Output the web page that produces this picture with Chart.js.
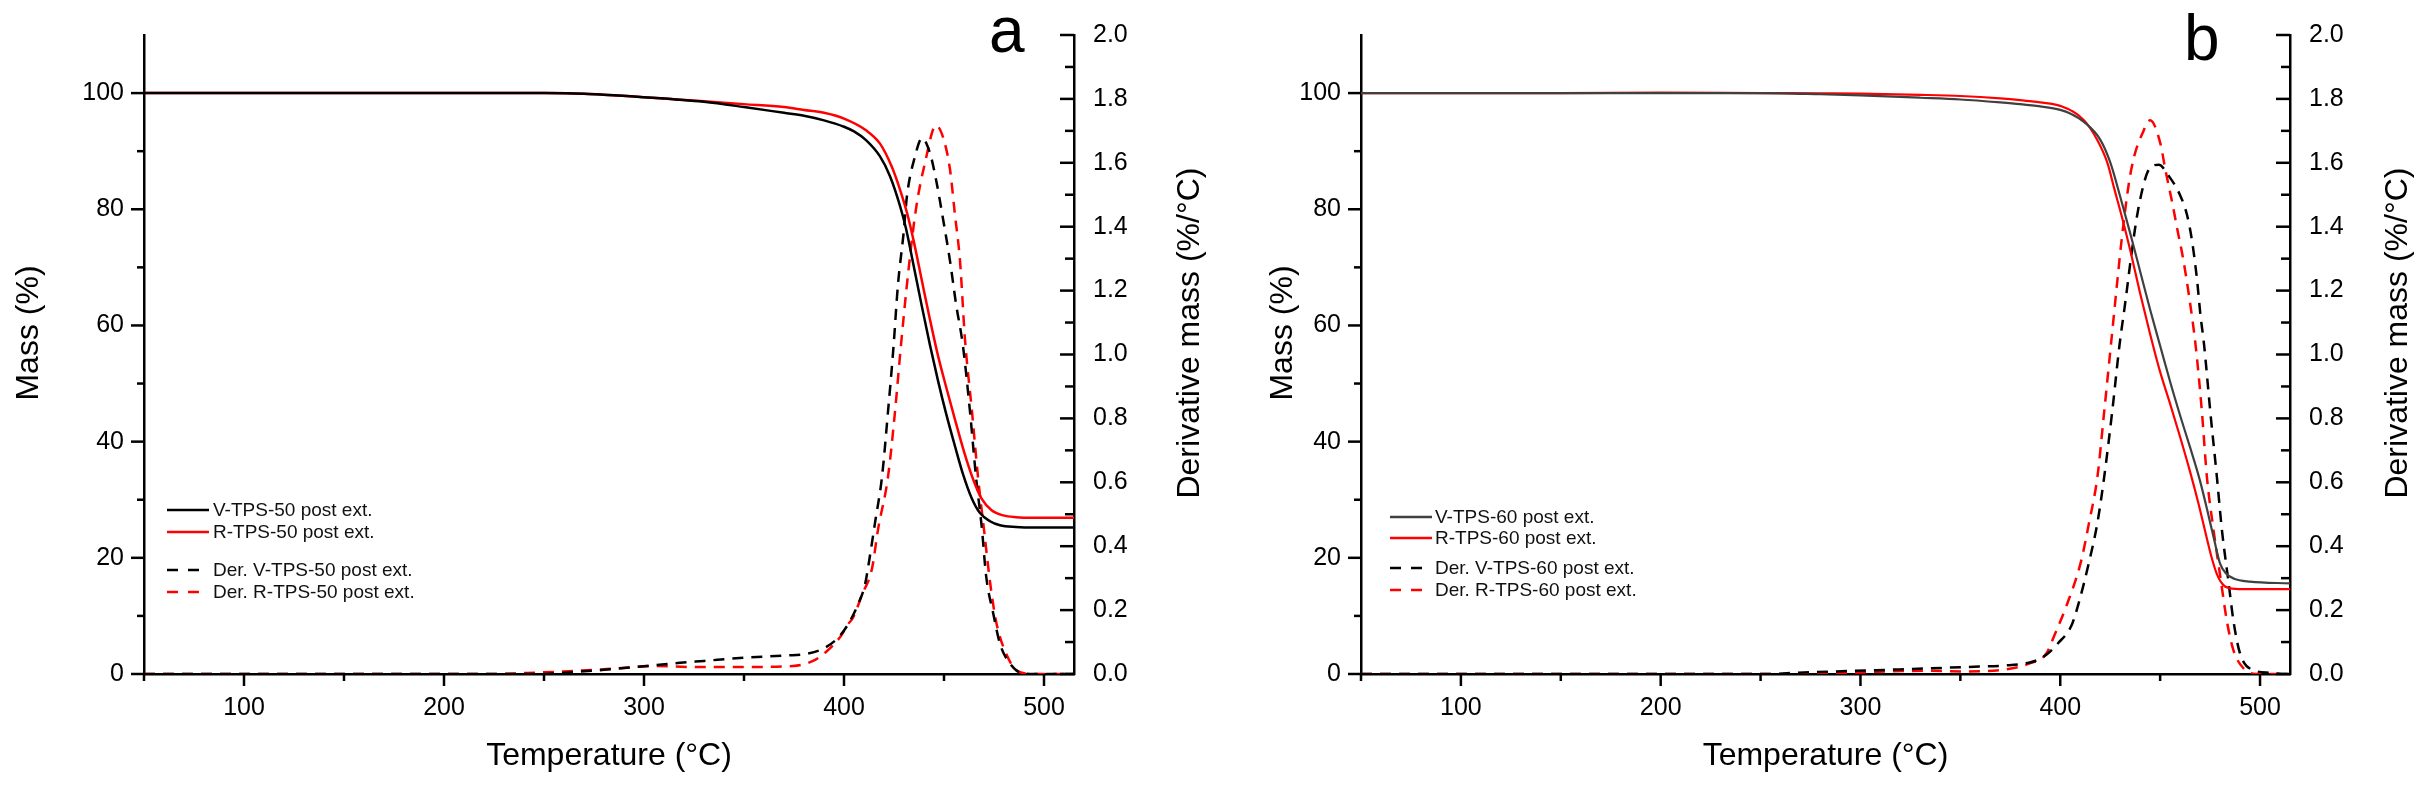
<!DOCTYPE html>
<html>
<head>
<meta charset="utf-8">
<title>TGA / DTG</title>
<script src="https://cdn.jsdelivr.net/npm/chart.js@4.4.1/dist/chart.umd.min.js"></script>
<style>
  body { margin: 0; background: #fff; width: 2431px; height: 790px; overflow: hidden; position: relative; }
  canvas { position: absolute; top: 0; }
  #chartA { left: 0; }
  #chartB { left: 1217px; }
</style>
</head>
<body>
<canvas id="chartA" width="1215" height="790"></canvas>
<canvas id="chartB" width="1214" height="790"></canvas>
<script>
// axis ticks
var tempTicks = [100, 200, 300, 400, 500];
var tempMinor = [50, 150, 250, 350, 450];
var massTicks = [0, 20, 40, 60, 80, 100];
var massMinor = [10, 30, 50, 70, 90];
var derivTicks = [0, 0.2, 0.4, 0.6, 0.8, 1.0, 1.2, 1.4, 1.6, 1.8, 2.0];
var derivMinor = [0.1, 0.3, 0.5, 0.7, 0.9, 1.1, 1.3, 1.5, 1.7, 1.9];

// panel a
var labelsA = ['V-TPS-50 post ext.', 'R-TPS-50 post ext.', 'Der. V-TPS-50 post ext.', 'Der. R-TPS-50 post ext.'];
var tempA_massV = [50, 100, 150, 200, 250, 270, 300, 330, 350, 370, 380, 390, 400, 405, 411, 418, 423, 428, 431, 434.7, 438.8, 443, 447, 451, 455.5, 459.5, 463.8, 468, 473, 478, 486, 495, 515];
var massA_V = [100, 100, 100, 100, 100, 99.9, 99.3, 98.5, 97.6, 96.6, 96.1, 95.3, 94.2, 93.4, 91.9, 89.1, 85.7, 80.6, 76.7, 70.5, 63.5, 56.6, 50.5, 44.9, 39.2, 34.4, 30.3, 27.7, 26.3, 25.6, 25.3, 25.2, 25.2];
var tempA_massR = [50, 100, 150, 200, 250, 270, 300, 330, 350, 370, 380, 390, 400, 411, 418, 423.8, 428, 431.5, 435, 439, 443, 447, 451, 455.5, 460, 464.7, 468.8, 473.8, 479.7, 486, 495, 515];
var massA_R = [100, 100, 100, 100, 100, 99.9, 99.3, 98.6, 98.1, 97.6, 97.1, 96.6, 95.6, 93.6, 91.3, 87.4, 83.4, 79.4, 74.3, 67.6, 61.0, 54.8, 49.5, 43.8, 38.3, 33.4, 30.2, 28.2, 27.3, 27.0, 26.9, 26.9];
var tempA_derV = [50, 250, 262, 280, 306, 318, 330, 350, 371, 382, 391, 398, 403, 407, 410.5, 413, 415.5, 419, 422, 424.7, 427, 429.7, 431.5, 435.5, 439, 443, 446, 449.5, 453, 456, 459.5, 463, 466, 469, 471, 474.7, 478, 483, 488, 495, 515];
var derA_V = [0, 0, 0.005, 0.013, 0.028, 0.035, 0.041, 0.051, 0.058, 0.064, 0.084, 0.12, 0.166, 0.218, 0.28, 0.371, 0.473, 0.617, 0.821, 1.02, 1.22, 1.374, 1.497, 1.62, 1.677, 1.63, 1.548, 1.425, 1.293, 1.159, 1.026, 0.821, 0.617, 0.452, 0.31, 0.187, 0.094, 0.033, 0.005, 0, 0];
var tempA_derR = [50, 225, 240, 260, 285, 306, 325, 351, 374.5, 384.5, 391, 398, 402, 404.5, 409, 414, 417, 422, 425.5, 428.5, 432, 436, 440.5, 446, 449.5, 453, 455.5, 458, 460.5, 464, 467, 470, 473, 476, 480.5, 487, 495, 515];
var derA_R = [0, 0, 0.003, 0.008, 0.017, 0.025, 0.022, 0.022, 0.025, 0.041, 0.069, 0.115, 0.156, 0.176, 0.248, 0.33, 0.452, 0.617, 0.821, 1.03, 1.25, 1.456, 1.6, 1.717, 1.68, 1.579, 1.436, 1.293, 1.047, 0.821, 0.617, 0.452, 0.289, 0.166, 0.072, 0.008, 0, 0];

// panel b
var labelsB = ['V-TPS-60 post ext.', 'R-TPS-60 post ext.', 'Der. V-TPS-60 post ext.', 'Der. R-TPS-60 post ext.'];
var tempB_massV = [50, 150, 200, 250, 280, 300, 330, 350, 370, 380, 390, 400, 405, 412, 420, 425, 430, 435, 440, 445, 450, 455, 460, 465, 470, 474, 477, 480, 483, 487, 495, 515];
var massB_V = [100, 100, 100, 100, 99.8, 99.6, 99.2, 98.9, 98.4, 98.1, 97.7, 97.1, 96.5, 95.0, 92.0, 88.1, 82.2, 75.9, 69.3, 62.7, 56.5, 50.3, 44.5, 39.0, 33.2, 27.6, 23.2, 19.0, 17.3, 16.4, 15.9, 15.6];
var tempB_massR = [50, 150, 200, 250, 280, 300, 330, 350, 370, 380, 390, 400, 412, 418.6, 423.6, 427, 431, 435, 440, 445, 450, 455, 460, 465, 469, 472.5, 475.5, 478.4, 481.7, 486, 495, 515];
var massB_R = [100, 100, 100.1, 100, 99.95, 99.9, 99.7, 99.5, 99.1, 98.8, 98.4, 97.8, 95.3, 91.9, 88.0, 83.6, 78.5, 73.0, 65.5, 58.5, 52.0, 46.5, 40.8, 34.8, 29.6, 24.6, 20.4, 17.2, 15.3, 14.7, 14.6, 14.6];
var tempB_derV = [50, 255, 265, 308, 331.5, 353, 373, 384.7, 389, 393, 399, 405.5, 408.7, 414.4, 418.6, 422, 426, 429.6, 432.7, 435.2, 438.5, 442, 444.4, 449.3, 454.3, 460.1, 463.5, 466, 468.5, 470.1, 472, 475.1, 478.4, 480.9, 484.2, 486.7, 490, 496.7, 505, 512, 515];
var derB_V = [0, 0, 0.003, 0.012, 0.017, 0.022, 0.027, 0.036, 0.045, 0.06, 0.097, 0.15, 0.21, 0.35, 0.473, 0.617, 0.821, 1.026, 1.17, 1.293, 1.436, 1.538, 1.579, 1.594, 1.559, 1.497, 1.436, 1.354, 1.232, 1.128, 1.03, 0.821, 0.617, 0.452, 0.289, 0.166, 0.064, 0.012, 0.004, 0, 0];
var tempB_derR = [50, 275, 300, 331.5, 353, 370, 384.7, 393, 397, 403.5, 410.3, 414.4, 418.6, 422, 425.2, 428.6, 431, 434.4, 437, 441, 445, 450.1, 452.6, 456, 458.5, 461.7, 464.3, 467.8, 470.9, 473.4, 476.7, 480, 483.4, 486.7, 491.7, 498, 515];
var derB_R = [0, 0, 0.005, 0.01, 0.008, 0.012, 0.033, 0.064, 0.12, 0.22, 0.35, 0.473, 0.617, 0.821, 1.02, 1.232, 1.374, 1.538, 1.62, 1.69, 1.733, 1.661, 1.579, 1.477, 1.395, 1.293, 1.19, 1.026, 0.821, 0.617, 0.452, 0.31, 0.166, 0.074, 0.018, 0, 0];

var FONT = "'Liberation Sans', Arial, sans-serif";

function pts(xs, ys) {
  return xs.map(function(x, i) { return { x: x, y: ys[i] }; });
}

function tickLine(ctx, x1, y1, x2, y2) {
  ctx.beginPath();
  ctx.moveTo(x1, y1);
  ctx.lineTo(x2, y2);
  ctx.stroke();
}

function vertText(ctx, text, x, y) {
  ctx.save();
  ctx.translate(x, y);
  ctx.rotate(-Math.PI / 2);
  ctx.textAlign = 'center';
  ctx.textBaseline = 'middle';
  ctx.fillText(text, 0, 0);
  ctx.restore();
}

// tick marks (outward on left/bottom, inward on the right axis), y titles, legend and panel letter
var decor = {
  id: 'decor',
  afterDraw: function(chart, args, opts) {
    var ctx = chart.ctx;
    var xs = chart.scales.x, ys = chart.scales.y, ds = chart.scales.y1;
    var area = chart.chartArea;
    ctx.save();
    ctx.strokeStyle = '#000';
    ctx.lineWidth = 2.5;
    tempTicks.forEach(function(v) { var p = xs.getPixelForValue(v); tickLine(ctx, p, area.bottom, p, area.bottom + 12); });
    tempMinor.forEach(function(v) { var p = xs.getPixelForValue(v); tickLine(ctx, p, area.bottom, p, area.bottom + 7); });
    massTicks.forEach(function(v) { var p = ys.getPixelForValue(v); tickLine(ctx, area.left - 13, p, area.left, p); });
    massMinor.forEach(function(v) { var p = ys.getPixelForValue(v); tickLine(ctx, area.left - 7, p, area.left, p); });
    derivTicks.forEach(function(v) { var p = ds.getPixelForValue(v); tickLine(ctx, area.right - 14, p, area.right, p); });
    derivMinor.forEach(function(v) { var p = ds.getPixelForValue(v); tickLine(ctx, area.right - 9, p, area.right, p); });

    ctx.fillStyle = '#000';
    ctx.font = '32px ' + FONT;
    vertText(ctx, 'Mass (%)', opts.leftTitleX, opts.titleY);
    vertText(ctx, 'Derivative mass (%/°C)', opts.rightTitleX, opts.titleY);

    // legend
    ctx.font = '19px ' + FONT;
    ctx.textBaseline = 'middle';
    ctx.textAlign = 'left';
    chart.data.datasets.forEach(function(d, i) {
      var y = opts.rows[i];
      ctx.strokeStyle = d.borderColor;
      ctx.lineWidth = 2.5;
      if (d.borderDash.length) {
        ctx.setLineDash([11, 10]);
        tickLine(ctx, opts.lineX, y, opts.lineX + 32, y);
      } else {
        ctx.setLineDash([]);
        tickLine(ctx, opts.lineX, y, opts.lineX + 42, y);
      }
      ctx.setLineDash([]);
      ctx.fillStyle = '#111';
      ctx.fillText(d.label, opts.textX, y + 1);
    });

    ctx.fillStyle = '#000';
    ctx.font = '64px ' + FONT;
    ctx.textBaseline = 'alphabetic';
    ctx.fillText(opts.letter, opts.letterX, opts.letterY);
    ctx.restore();
  }
};

function makePanel(id, labels, series, colorV, look) {
  var ctx = document.getElementById(id).getContext('2d');
  var tickFont = { family: FONT, size: 25 };
  var titleFont = { family: FONT, size: 32 };
  return new Chart(ctx, {
    type: 'line',
    data: {
      datasets: [
        { label: labels[0], data: pts(series[0], series[1]), yAxisID: 'y', borderColor: colorV, borderWidth: look.solidWidth, borderDash: [] },
        { label: labels[1], data: pts(series[2], series[3]), yAxisID: 'y', borderColor: '#ff0000', borderWidth: look.solidWidth, borderDash: [] },
        { label: labels[2], data: pts(series[4], series[5]), yAxisID: 'y1', borderColor: '#000000', borderWidth: 2.5, borderDash: [11, 8] },
        { label: labels[3], data: pts(series[6], series[7]), yAxisID: 'y1', borderColor: '#ff0000', borderWidth: 2.5, borderDash: [11, 8] }
      ]
    },
    options: {
      responsive: false,
      animation: false,
      events: [],
      layout: { padding: { top: 23, left: 0, right: 0, bottom: 0 } },
      elements: {
        point: { radius: 0 },
        line: { cubicInterpolationMode: 'monotone', fill: false }
      },
      plugins: {
        legend: { display: false },
        tooltip: { enabled: false },
        decor: look.decor
      },
      scales: {
        x: {
          type: 'linear',
          min: 50,
          max: 515,
          afterBuildTicks: function(s) { s.ticks = tempTicks.map(function(v) { return { value: v }; }); },
          afterFit: function(s) { s.height = 116; },
          grid: { display: false, drawTicks: false },
          border: { display: true, color: '#000', width: 2.5 },
          ticks: { font: tickFont, color: '#000', padding: 19, maxRotation: 0 },
          title: { display: true, text: 'Temperature (°C)', font: titleFont, color: '#000', padding: { top: 0, bottom: 15 } }
        },
        y: {
          position: 'left',
          min: 0,
          max: 110,
          afterBuildTicks: function(s) { s.ticks = massTicks.map(function(v) { return { value: v }; }); },
          afterFit: function(s) { s.width = 144; },
          grid: { display: false, drawTicks: false },
          border: { display: true, color: '#000', width: 2.5 },
          ticks: { font: tickFont, color: '#000', padding: 20 }
        },
        y1: {
          position: 'right',
          min: 0,
          max: 2.0,
          afterBuildTicks: function(s) { s.ticks = derivTicks.map(function(v) { return { value: v }; }); },
          afterFit: function(s) { s.width = 141; },
          grid: { display: false, drawTicks: false },
          border: { display: true, color: '#000', width: 2.5 },
          ticks: { font: tickFont, color: '#000', padding: 19, callback: function(v) { return Number(v).toFixed(1); } }
        }
      }
    },
    plugins: [decor]
  });
}

makePanel('chartA', labelsA,
  [tempA_massV, massA_V, tempA_massR, massA_R, tempA_derV, derA_V, tempA_derR, derA_R],
  '#000000',
  {
    solidWidth: 2.5,
    decor: { rows: [510, 532, 570, 592], lineX: 167, textX: 213, letter: 'a', letterX: 989, letterY: 52,
             leftTitleX: 29, rightTitleX: 1190, titleY: 333 }
  });

makePanel('chartB', labelsB,
  [tempB_massV, massB_V, tempB_massR, massB_R, tempB_derV, derB_V, tempB_derR, derB_R],
  '#404040',
  {
    solidWidth: 2.2,
    decor: { rows: [517, 538, 568, 590], lineX: 173, textX: 218, letter: 'b', letterX: 967, letterY: 60,
             leftTitleX: 66, rightTitleX: 1181, titleY: 333 }
  });
</script>
</body>
</html>
